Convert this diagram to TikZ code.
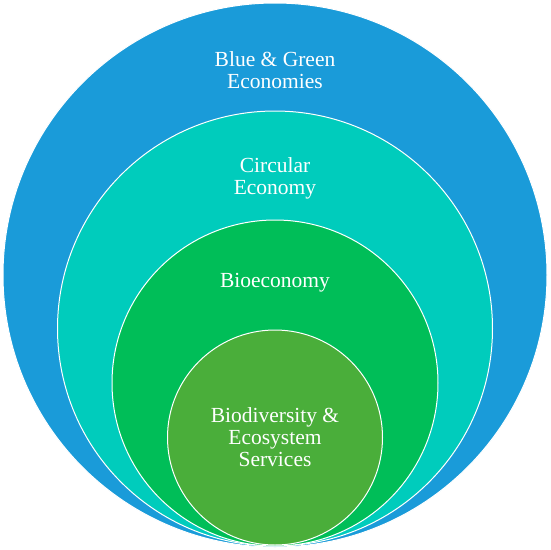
\documentclass[tikz,border=0pt]{standalone}
\usepackage{fontspec}
\setmainfont{Liberation Serif}
\definecolor{cblue}{RGB}{26,155,217}
\definecolor{cteal}{RGB}{0,204,188}
\definecolor{cgreen}{RGB}{0,190,88}
\definecolor{colive}{RGB}{74,174,58}
\tikzset{
  ring/.style={draw=white, line width=1pt},
  lbl/.style={text=white, font=\fontsize{21.5pt}{22pt}\selectfont, align=center, inner sep=0pt, anchor=base}
}
\begin{document}
\begin{tikzpicture}[x=1pt,y=-1pt]
\useasboundingbox (0,0) rectangle (550,550);
\fill[white] (0,0) rectangle (550,550);
\path[ring, fill=cblue] (275,275) circle[radius=272];
\path[ring, fill=cteal] (275,328.5) circle[radius=217.5];
\path[ring, fill=cgreen] (275,383) circle[radius=163];
\path[ring, fill=colive] (275,437.5) circle[radius=107.5];
\node[lbl] (blue) at (275,88) {Blue \& Green\\Economies};
\node[lbl] (circ) at (275,194.3) {Circular\\Economy};
\node[lbl] (bio) at (275,287) {Bioeconomy};
\node[lbl] (biod) at (275,466) {Biodiversity \&\\Ecosystem\\Services};
\end{tikzpicture}
\end{document}
